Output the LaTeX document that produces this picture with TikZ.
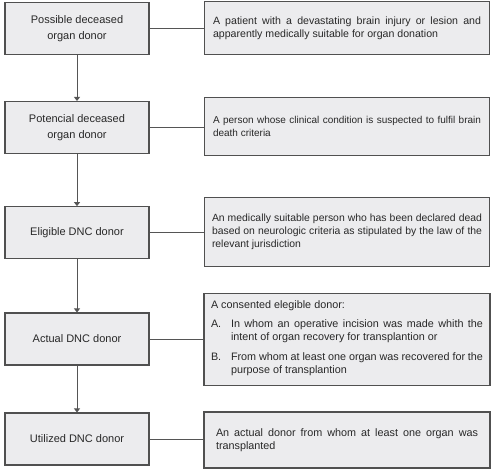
\documentclass[tikz,border=0pt]{standalone}
\usepackage{fontspec}
\setmainfont{Liberation Sans}
\usepackage{tikz}
\usetikzlibrary{arrows.meta, positioning, calc}
\definecolor{BoxFill}{RGB}{236,236,238}
\definecolor{BoxLine}{RGB}{80,80,80}
\definecolor{LinkGray}{RGB}{85,85,85}
\definecolor{TextGray}{RGB}{40,40,40}
\newcommand{\nohyph}{\hyphenpenalty10000 \exhyphenpenalty10000 }
\hyphenpenalty=10000
\exhyphenpenalty=10000

\begin{document}
\begin{tikzpicture}[x=1pt, y=-1pt,
    stage/.style={shape=rectangle, draw=BoxLine, fill=BoxFill, line width=1.1pt, text=TextGray,
        minimum width=144pt, minimum height=52pt, align=center,
        font=\fontsize{11}{15.5}\selectfont},
    defn/.style={shape=rectangle, draw=BoxLine, fill=BoxFill, line width=1.1pt, text=TextGray,
        minimum width=285pt, inner xsep=8.5pt, text width=268pt, align=justify,
        font=\fontsize{10.6}{13}\selectfont},
    link/.style={thick, LinkGray},
    flow/.style={thick, LinkGray, -{Triangle[width=6pt, length=4pt]}}]
    \useasboundingbox (0,0) rectangle (492,469);
    % stages
    \node[stage] (A) at (77, 28.5) {Possible deceased\\organ donor};
    \node[stage] (B) at (77,127.5) {Potencial deceased\\organ donor};
    \node[stage] (C) at (77,232.7) {Eligible DNC donor};
    \node[stage] (D) at (77,339)   {Actual DNC donor};
    \node[stage] (E) at (77,439)   {Utilized DNC donor};
    % definitions
    \node[defn, minimum height=53pt] (DA) at (347,28)
        {\nohyph A patient with a devastating brain injury or lesion and apparently medically suitable for organ donation\par};
    \node[defn, minimum height=58pt, font=\fontsize{10}{13}\selectfont] (DB) at (347,126.2)
        {\nohyph A person whose clinical condition is suspected to fulfil brain death criteria\par};
    \node[defn, minimum height=69pt, inner xsep=7.5pt, text width=270pt, font=\fontsize{10.4}{13.3}\selectfont] (DC) at (347,232)
        {\nohyph An medically suitable person who has been declared dead based on neurologic criteria as stipulated by the law of the relevant jurisdiction\par};
    \node[defn, minimum height=92pt, inner xsep=7pt, text width=272pt, font=\fontsize{10.8}{13.3}\selectfont] (DD) at (347,339.3)
        {\nohyph A consented elegible donor:\par\vspace{6pt}
         \noindent\begin{tabular}{@{}p{20pt}@{}p{252pt}@{}}
         A. & \nohyph In whom an operative incision was made whith the intent of organ recovery for transplantion or\\[6pt]
         B. & \nohyph From whom at least one organ was recovered for the purpose of transplantion
         \end{tabular}};
    \node[defn, minimum height=56pt, inner xsep=12pt, text width=262pt, font=\fontsize{10.8}{13}\selectfont] (DE) at (347,440)
        {\nohyph An actual donor from whom at least one organ was transplanted\par};
    % connectors
    \foreach \s in {A,B,C,D,E}
        \draw[link] (\s.east) -- (\s.east -| D\s.west);
    \draw[flow] (A) -- (B);
    \draw[flow] (B) -- (C);
    \draw[flow] (C) -- (D);
    \draw[flow] (D) -- (E);
\end{tikzpicture}
\end{document}
